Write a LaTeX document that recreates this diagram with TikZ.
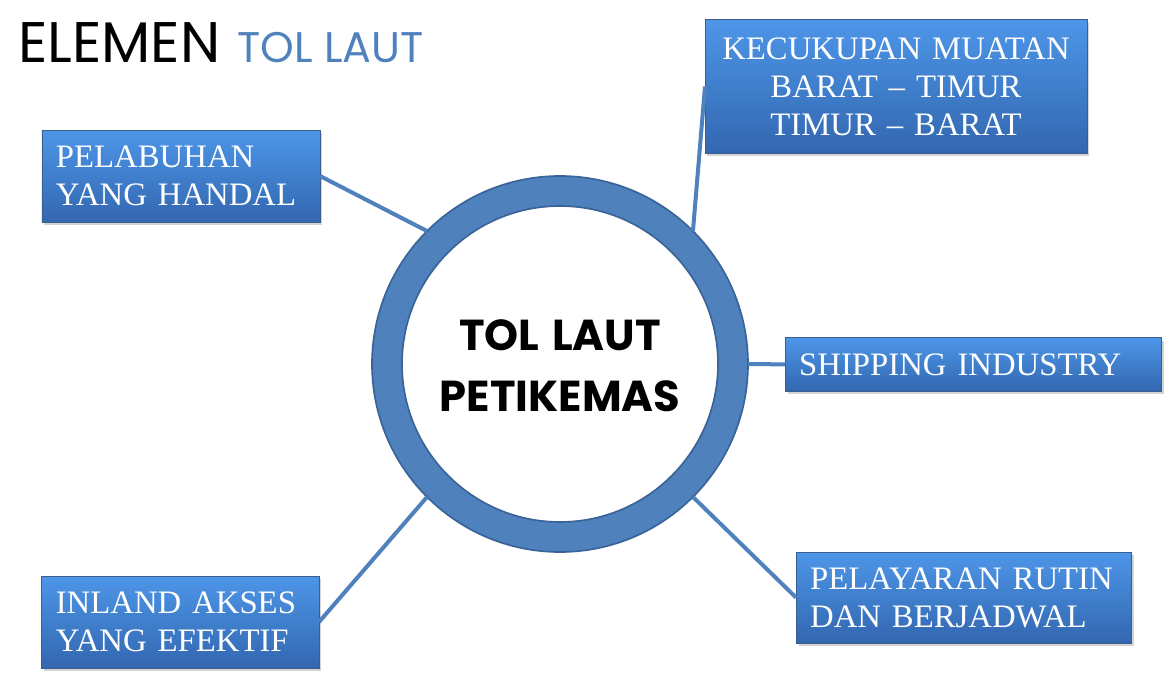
\documentclass[tikz,border=0pt]{standalone}
\usepackage{fontspec}
\setmainfont{Liberation Serif}
\newfontfamily\geofont{Poppins}
\usepackage{tikz}
\usetikzlibrary{shadows}
\definecolor{ringblue}{HTML}{4F81BD}
\definecolor{ringedge}{HTML}{3A6497}
\definecolor{boxtop}{HTML}{4E95E8}
\definecolor{boxmid}{HTML}{3F7FCC}
\definecolor{boxbot}{HTML}{3466B0}
\definecolor{boxedge}{HTML}{3A5F8F}
\tikzset{
  itembox/.style={rectangle, draw=boxedge, line width=0.6pt, top color=boxtop, bottom color=boxbot, middle color=boxmid, text=white, font=\fontsize{23.3}{27}\selectfont, inner xsep=0.35cm, inner ysep=0pt, outer sep=0pt, drop shadow={opacity=0.35, shadow xshift=0.06cm, shadow yshift=-0.08cm}},
  link/.style={ringblue, line width=2.85pt},
}

\begin{document}
\begin{tikzpicture}
\useasboundingbox (0cm,0cm) rectangle (29.35cm,-17.05cm);
% title
\node[anchor=base west, inner sep=0pt, font=\geofont\fontsize{40.7}{44}\selectfont] (title) at (0.45cm,-1.55cm) {ELEMEN};
\node[anchor=base west, inner sep=0pt, text=ringblue, font=\geofont\fontsize{30.5}{34}\selectfont] (subtitle) at (5.93cm,-1.55cm) {TOL LAUT};
% ring in the middle
\node[circle, fill=ringblue, draw=ringedge, line width=1.2pt, minimum size=9.4cm, outer sep=0pt] (ring) at (14cm,-9.1cm) {};
\node[circle, fill=white, draw=ringedge, line width=1.2pt, minimum size=7.9cm, outer sep=0pt] (hub) at (14cm,-9.1cm) {};
\node[align=center, font=\geofont\bfseries\fontsize{30.8}{43.4}\selectfont] (hubtext) at (14cm,-9.15cm) {TOL\hspace{0.3em}LAUT\\PETIKEMAS};
% boxes
\node[itembox, minimum width=6.95cm, minimum height=2.3cm, text width=6.25cm, align=left] (port) at (4.525cm,-4.4cm) {PELABUHAN\\YANG HANDAL};
\node[itembox, minimum width=9.55cm, minimum height=3.33cm, text width=8.85cm, align=center] (cargo) at (22.4cm,-2.16cm) {KECUKUPAN MUATAN\\BARAT -- TIMUR\\TIMUR -- BARAT};
\node[itembox, minimum width=9.4cm, minimum height=1.33cm, text width=8.7cm, align=left] (ship) at (24.33cm,-9.11cm) {SHIPPING INDUSTRY};
\node[itembox, minimum width=8.375cm, minimum height=2.28cm, text width=7.675cm, align=left] (route) at (24.09cm,-14.94cm) {PELAYARAN RUTIN\\DAN BERJADWAL};
\node[itembox, minimum width=6.93cm, minimum height=2.3cm, text width=6.23cm, align=left] (inland) at (4.51cm,-15.55cm) {INLAND AKSES\\YANG EFEKTIF};
% links
\draw[link] (ring.135) -- (port.east);
\draw[link] (ring.45) -- (cargo.west);
\draw[link] (ring.0) -- (ship.west);
\draw[link] (ring.-45) -- (route.west);
\draw[link] (ring.-135) -- (inland.east);
\end{tikzpicture}
\end{document}
